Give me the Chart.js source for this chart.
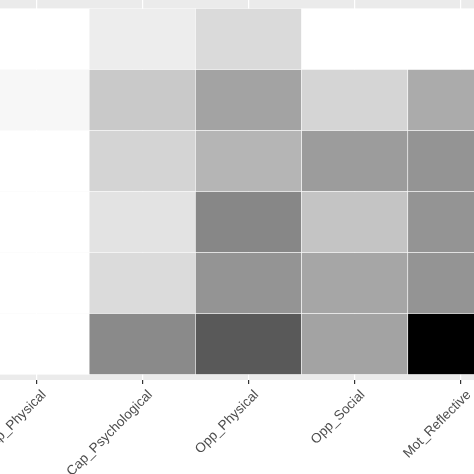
<!DOCTYPE html>
<html>
<head>
<meta charset="utf-8">
<script src="https://cdn.jsdelivr.net/npm/chart.js@4"></script>
<style>
  html, body { margin: 0; padding: 0; background: #ffffff; overflow: hidden; }
  #wrap { position: absolute; left: -17px; top: 0; width: 531px; height: 474px; }
</style>
</head>
<body>
<div id="wrap"><canvas id="heatChart"></canvas></div>
<script>
// columns (x axis), left to right
const columns = ["Cap_Physical", "Cap_Psychological", "Opp_Physical", "Opp_Social", "Mot_Reflective"];

// rows, top to bottom (row labels are cut off in the picture)
const rowNames = ["Row 1", "Row 2", "Row 3", "Row 4", "Row 5", "Row 6"];

// shade values per row (0 = white, 100 = black)
const row1 = [0, 7, 14.5, 0, 0];
const row2 = [3, 21, 36, 16.5, 33];
const row3 = [0, 17, 29, 39, 42];
const row4 = [0, 11, 47, 23, 42];
const row5 = [0, 14, 42, 35, 42];
const row6 = [0, 46, 65, 36, 100];

const rowValues = [row1, row2, row3, row4, row5, row6];

function shade(v) {
  const g = Math.round(255 * (1 - v / 100));
  return "rgb(" + g + "," + g + "," + g + ")";
}

// stacked bars: bottom row first
const datasets = [];
for (let r = rowValues.length - 1; r >= 0; r--) {
  datasets.push({
    label: rowNames[r],
    data: columns.map(() => 1),
    backgroundColor: rowValues[r].map(shade),
    borderColor: "#ffffff",
    borderWidth: 0.6,
    borderSkipped: false,
    categoryPercentage: 1.0,
    barPercentage: 1.0,
  });
}

// grey panel background like ggplot
const panelBackground = {
  id: "panelBackground",
  beforeDraw(chart) {
    const a = chart.chartArea;
    const ctx = chart.ctx;
    ctx.save();
    ctx.fillStyle = "#EBEBEB";
    ctx.fillRect(a.left, a.top, a.right - a.left, a.bottom - a.top);
    ctx.restore();
  },
};

new Chart(document.getElementById("heatChart"), {
  type: "bar",
  data: { labels: columns, datasets: datasets },
  plugins: [panelBackground],
  options: {
    responsive: true,
    maintainAspectRatio: false,
    animation: false,
    layout: { padding: 0 },
    plugins: { legend: { display: false }, tooltip: { enabled: false } },
    scales: {
      x: {
        stacked: true,
        grid: {
          offset: false,
          color: "#ffffff",
          lineWidth: 1.2,
          tickColor: "#333333",
          tickLength: 4,
        },
        border: { display: false },
        ticks: {
          minRotation: 45,
          maxRotation: 45,
          autoSkip: false,
          padding: 3,
          labelOffset: 8,
          color: "#4D4D4D",
          font: { family: "Liberation Sans", size: 13.5 },
        },
        afterFit(scale) {
          scale.height = 94;
          scale.paddingLeft = 0;
          scale.paddingRight = 0;
        },
      },
      y: {
        stacked: true,
        display: false,
        min: -0.09,
        max: 6.14,
      },
    },
  },
});
</script>
</body>
</html>
